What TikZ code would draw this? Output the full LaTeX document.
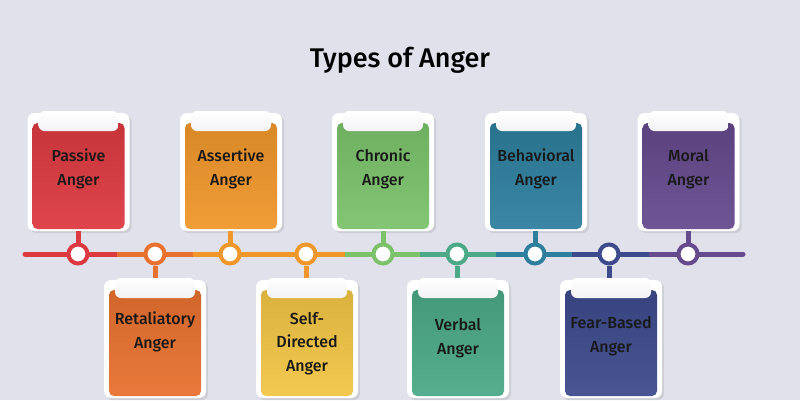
\documentclass[tikz,border=0pt]{standalone}
\usepackage{fontspec}
\setmainfont{Fira Sans}
\newfontfamily\medfont{Fira Sans Medium}
\usetikzlibrary{shadows}
\definecolor{bg}{HTML}{E1E1EB}
\definecolor{tabgray}{HTML}{F3F3F5}
\definecolor{cA}{HTML}{DC3A40}
\definecolor{cB}{HTML}{E8712F}
\definecolor{cC}{HTML}{F0972B}
\definecolor{cD}{HTML}{F2C545}
\definecolor{cE}{HTML}{7BC26B}
\definecolor{cF}{HTML}{4BA987}
\definecolor{cG}{HTML}{2E7F9E}
\definecolor{cH}{HTML}{3D4B8C}
\definecolor{cI}{HTML}{654A8D}
\tikzset{
  outer/.style={fill=white, rounded corners=7pt, minimum width=102pt, minimum height=118pt, inner sep=0,
    drop shadow={opacity=0.2, shadow xshift=2.2pt, shadow yshift=-2.2pt}},
  inner/.style={top color=#1!90!black, bottom color=#1!94!white, rounded corners=5pt, minimum width=92pt, minimum height=106pt, inner sep=0},
  tabbox/.style={top color=white, bottom color=tabgray, rounded corners=6pt, minimum width=80pt, minimum height=20pt, inner sep=0},
  lbl/.style={font=\medfont\fontsize{16}{23.5}\selectfont, align=center, text=black!90, inner sep=0},
  dot/.style={circle, fill=white, draw=#1, line width=4pt, minimum size=19pt, inner sep=0},
  seg/.style={draw=#1, line width=5pt},
  stem/.style={draw=#1, line width=5pt}
}
\newcommand{\card}[4]{% name, x, y(outer center), color
  \node[outer] (#1) at (#2,#3) {};
  \node[inner=#4] (#1i) at (#2,#3+4) {};
  \node[tabbox] (#1t) at (#2,#3-51) {};
}
\begin{document}
\begin{tikzpicture}[x=1pt,y=-1pt]
\fill[bg] (0,0) rectangle (800,400);
\useasboundingbox (0,0) rectangle (800,400);

\node[font=\medfont\fontsize{27}{30}\selectfont] (title) at (400,60) {Types of Anger};

% line coordinates
\coordinate (s0) at (25,254);
\coordinate (s1) at (116.5,254);
\coordinate (s2) at (192.5,254);
\coordinate (s3) at (268,254);
\coordinate (s4) at (344.5,254);
\coordinate (s5) at (420,254);
\coordinate (s6) at (496,254);
\coordinate (s7) at (572,254);
\coordinate (s8) at (648.5,254);
\coordinate (s9) at (743,254);

\draw[seg=cA, line cap=round] (s0) -- (s1);
\draw[seg=cI, line cap=round] (s8) -- (s9);
\draw[seg=cB] (s1) -- (s2);
\draw[seg=cC] (s2) -- (s3);
\draw[seg=cC] (s3) -- (s4);
\draw[seg=cE] (s4) -- (s5);
\draw[seg=cF] (s5) -- (s6);
\draw[seg=cG] (s6) -- (s7);
\draw[seg=cH] (s7) -- (s8);

% cards
\card{c1}{78.5}{172}{cA}
\card{c3}{231}{172}{cC}
\card{c5}{383}{172}{cE}
\card{c7}{536}{172}{cG}
\card{c9}{688.5}{172}{cI}
\card{c2}{155}{339}{cB}
\card{c4}{307}{339}{cD}
\card{c6}{458}{339}{cF}
\card{c8}{611}{339}{cH}

% labels
\node[lbl] (l1) at (78.5,169) {Passive\\Anger};
\node[lbl] (l3) at (231,169) {Assertive\\Anger};
\node[lbl] (l5) at (383,169) {Chronic\\Anger};
\node[lbl] (l7) at (536,169) {Behavioral\\Anger};
\node[lbl] (l9) at (688.5,169) {Moral\\Anger};
\node[lbl] (l2) at (155,332) {Retaliatory\\Anger};
\node[lbl] (l4) at (307,343.5) {Self-\\Directed\\Anger};
\node[lbl] (l6) at (458,338) {Verbal\\Anger};
\node[lbl] (l8) at (611,336) {Fear-Based\\Anger};

% dots
\node[dot=cA] (p1) at (78,254) {};
\node[dot=cB] (p2) at (155,254) {};
\node[dot=cC] (p3) at (230,254) {};
\node[dot=cC] (p4) at (306,254) {};
\node[dot=cE] (p5) at (383,254) {};
\node[dot=cF] (p6) at (457,254) {};
\node[dot=cG] (p7) at (535,254) {};
\node[dot=cH] (p8) at (609,254) {};
\node[dot=cI] (p9) at (688,254) {};

% stems
\draw[stem=cA] (c1.south -| p1) -- (p1.north);
\draw[stem=cC] (c3.south -| p3) -- (p3.north);
\draw[stem=cE] (c5.south -| p5) -- (p5.north);
\draw[stem=cG] (c7.south -| p7) -- (p7.north);
\draw[stem=cI] (c9.south -| p9) -- (p9.north);
\draw[stem=cB] (p2.south) -- (c2t.north -| p2);
\draw[stem=cC] (p4.south) -- (c4t.north -| p4);
\draw[stem=cF] (p6.south) -- (c6t.north -| p6);
\draw[stem=cH] (p8.south) -- (c8t.north -| p8);
\end{tikzpicture}
\end{document}
